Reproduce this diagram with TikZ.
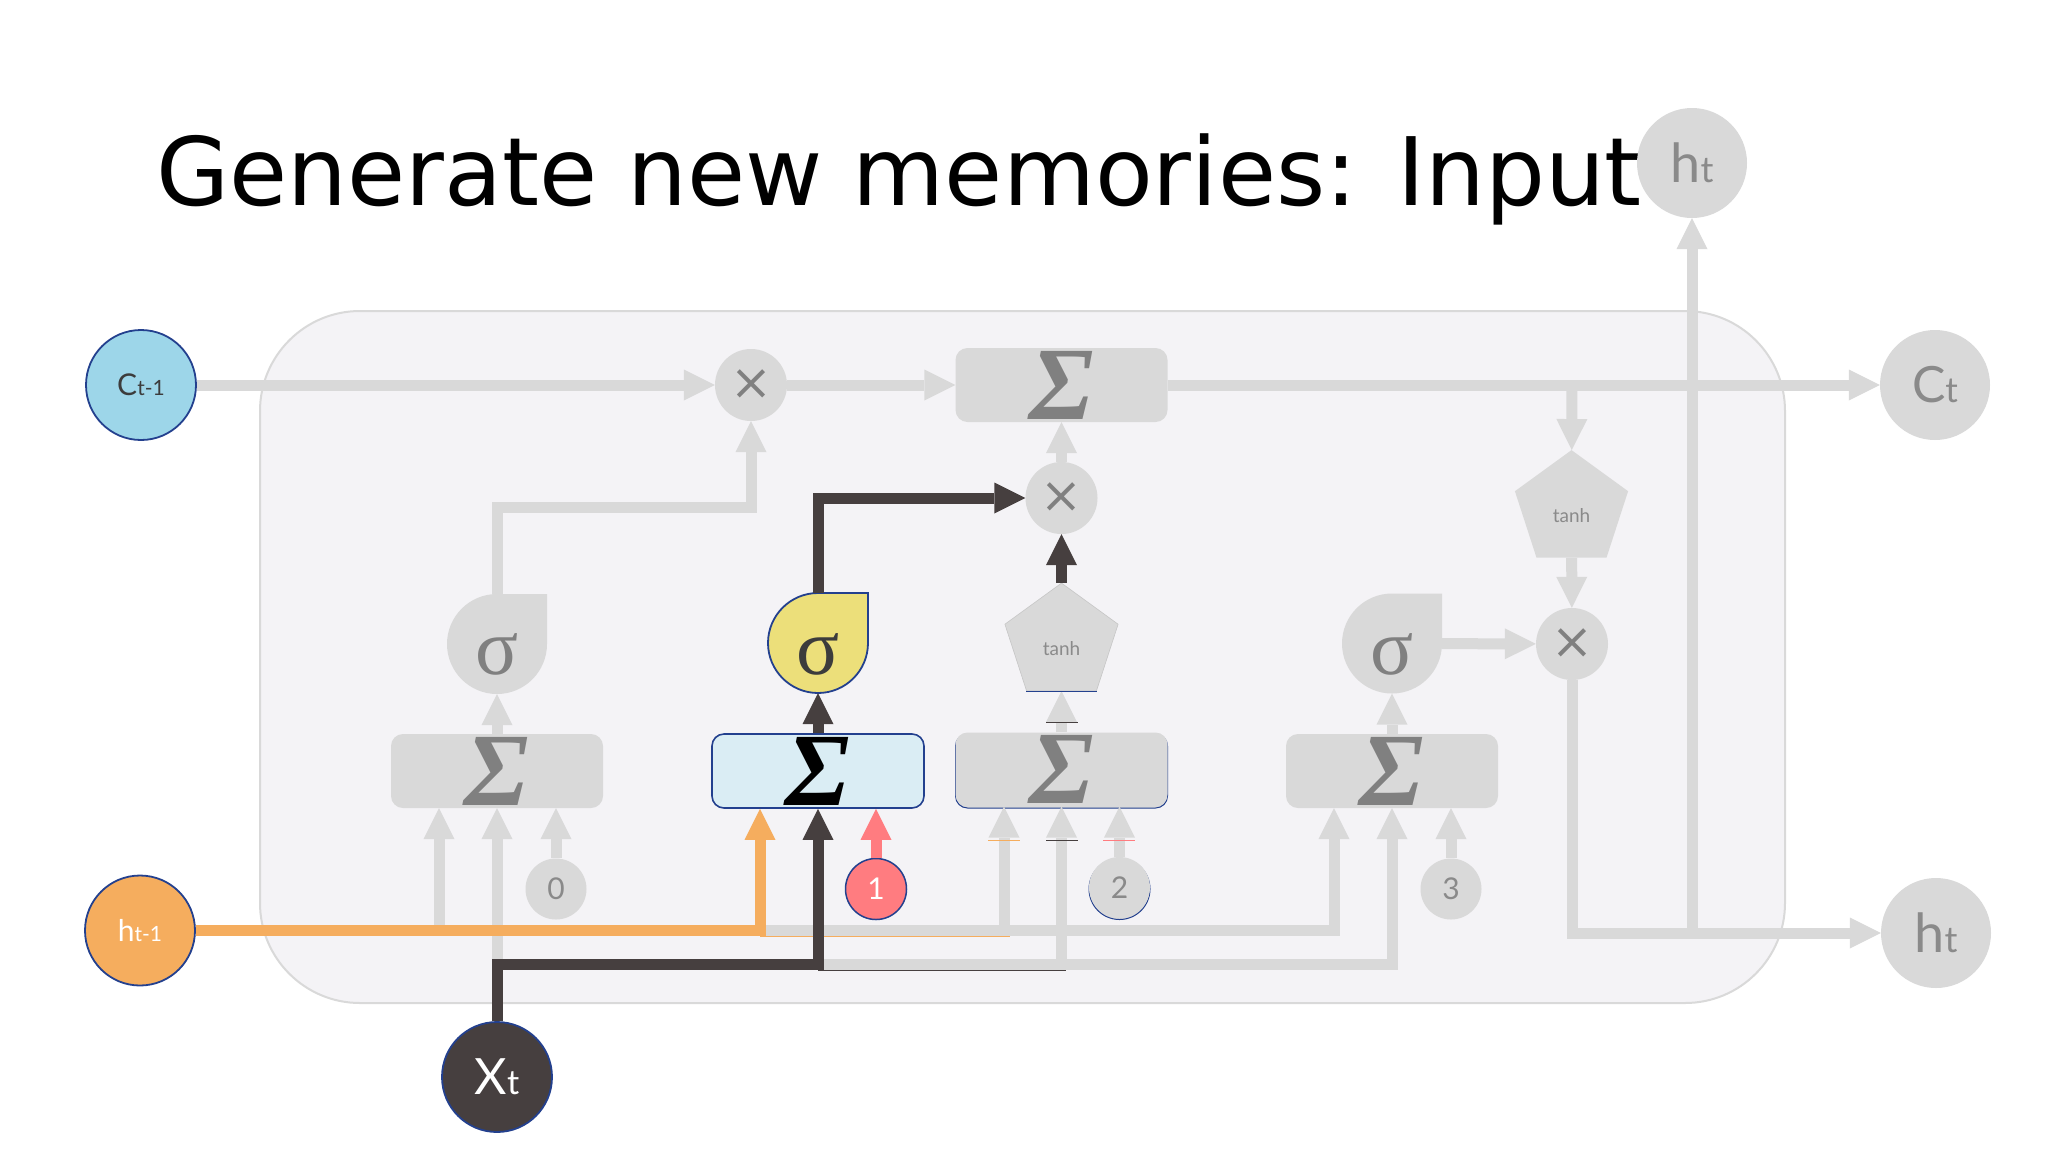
\documentclass[tikz,border=0pt]{standalone}
\usepackage{fontspec}
\setmainfont{Lato}
\newfontfamily\titlefont{DejaVu Sans}
\newfontfamily\grkfont{Liberation Serif}
\newfontfamily\xfont{DejaVu Sans}
\usetikzlibrary{arrows.meta,shapes.geometric}
\newcommand{\fsz}[1]{\fontsize{#1}{#1}\selectfont}
\definecolor{lgray}{HTML}{D9D9D9}
\definecolor{tgray}{HTML}{8A8A8A}
\definecolor{sgray}{HTML}{808080}
\definecolor{dark}{HTML}{463F3F}
\definecolor{navy}{HTML}{23408E}
\definecolor{orng}{HTML}{F5AD5E}
\definecolor{pinkred}{HTML}{FF7C80}
\definecolor{yell}{HTML}{ECDF7A}
\definecolor{lblue}{HTML}{DAEDF4}
\definecolor{cblue}{HTML}{9DD6E9}
\definecolor{panel}{HTML}{F4F3F6}
\definecolor{ctext}{HTML}{3C3C3C}
\tikzset{
  sigpic/.pic={\path[pic actions] (0,-50) -- (50,-50) -- (50,0)
     .. controls (50,27.6) and (27.6,50) .. (0,50)
     .. controls (-27.6,50) and (-50,27.6) .. (-50,0)
     .. controls (-50,-27.6) and (-27.6,-50) .. (0,-50) -- cycle;}
}
\begin{document}
\begin{tikzpicture}[x=1pt,y=-1pt,
  arrtip/.style={-{Triangle[width=31pt,length=31pt,line width=0pt]}},
  gline/.style={line width=11pt, draw=lgray},
  garrow/.style={gline, arrtip},
  darrow/.style={line width=11pt, draw=dark, arrtip},
  oarrow/.style={line width=11pt, draw=orng, arrtip},
  rarrow/.style={line width=11pt, draw=pinkred, arrtip},
  io/.style={circle, inner sep=0pt, minimum size=110pt},
  sumbox/.style={rectangle, rounded corners=12pt, minimum width=212pt, minimum height=74pt, inner sep=0pt, fill=lgray, text=sgray, font=\grkfont\bfseries\itshape\fsz{104pt}},
  mul/.style={circle, fill=lgray, minimum size=72pt, inner sep=0pt, text=sgray, font=\xfont\fsz{50pt}},
  pent/.style={regular polygon, regular polygon sides=5, minimum size=119pt, inner sep=0pt, fill=lgray},
  pentt/.style={inner sep=0pt, text=tgray, font=\fsz{19pt}},
  sigc/.style={circle, minimum size=100pt, inner sep=0pt},
  sigt/.style={inner sep=0pt, font=\grkfont\fsz{80pt}},
  num/.style={circle, fill=lgray, minimum size=61pt, inner sep=0pt, text=tgray, font=\fsz{30pt}},
  tick/.style={inner sep=0pt, minimum width=32pt, minimum height=1.6pt}
]
\useasboundingbox (0,0) rectangle (2048,1152);
\fill[white] (0,0) rectangle (2048,1152);

% cell panel
\node[draw=lgray, fill=panel, line width=2pt, rounded corners=100pt, minimum width=1525pt, minimum height=692pt, inner sep=0pt] (cell) at (1022.5,657) {};

% title
\node[anchor=base west, inner sep=0pt, font=\titlefont\fsz{94.5pt}] (title) at (156,205) {Generate new memories: Input};

% outer inputs / outputs
\node[io, fill=cblue, draw=navy, line width=1.8pt, text=ctext] (cprev) at (141,385) {\fsz{30pt}C\fsz{21pt}t-1};
\node[io, fill=orng, draw=navy, line width=1.8pt, text=white] (hprev) at (140,930.5) {\fsz{30pt}h\fsz{21pt}t-1};
\node[io, fill=dark, draw=navy, line width=1.8pt, text=white] (Xt) at (497,1077) {\fsz{50pt}X\fsz{34pt}t};
\node[io, fill=lgray, text=tgray] (htop) at (1692,163) {\fsz{54pt}h\fsz{36pt}t};
\node[io, fill=lgray, text=tgray] (Ct) at (1935,385) {\fsz{50pt}C\fsz{35pt}t};
\node[io, fill=lgray, text=tgray] (hout) at (1936,933) {\fsz{54pt}h\fsz{36pt}t};

% top row
\node[mul] (mulA) at (751,385) {×};
\node[sumbox] (sumTop) at (1061.5,385) {Σ};
\node[mul] (mulB) at (1061.5,498) {×};
\node[pent, draw=gray!45, line width=0.6pt] (tanhB) at (1061.5,642.6) {};
\node[pentt] (tanhBt) at (1061.5,649) {tanh};
\node[pent] (tanhD) at (1571.5,509.6) {};
\node[pentt] (tanhDt) at (1571.5,516) {tanh};
\node[mul] (mulD) at (1572,644) {×};

% sigma gates
\pic[fill=lgray] at (497,644) {sigpic};
\node[sigc] (sigA) at (497,644) {};
\node[sigt, text=sgray] (sigAt) at (497,654) {σ};
\pic[fill=yell, draw=navy, line width=1.8pt] at (818,643) {sigpic};
\node[sigc] (sigB) at (818,643) {};
\node[sigt, text=ctext] (sigBt) at (818,654) {σ};
\pic[fill=lgray] at (1392,643.5) {sigpic};
\node[sigc] (sigD) at (1392,643.5) {};
\node[sigt, text=sgray] (sigDt) at (1392,654) {σ};

% sum boxes
\node[sumbox] (sumA) at (497,771) {Σ};
\node[sumbox, fill=lblue, draw=navy, line width=1.6pt, text=black] (sumB) at (818,771) {Σ};
\node[sumbox, draw=navy, line width=1pt] (sumCb) at (1061.5,771) {};
\node[sumbox] (sumC) at (1061.5,769.5) {Σ};
\node[sumbox] (sumD) at (1392,771) {Σ};

% bias numbers
\node[num] (num0) at (556,889) {0};
\node[num, fill=pinkred, draw=navy, line width=1.5pt, text=white] (num1) at (876,889) {1};
\node[num, draw=navy, line width=1pt] (num2b) at (1119.5,889) {};
\node[num] (num2) at (1119.5,887.5) {2};
\node[num] (num3) at (1451,889) {3};

% coordinates of line corners
\coordinate (cdrop) at (1572,385);
\coordinate (fgate) at (624,507);
\coordinate (hcorner) at (1572,933);
\coordinate (hup) at (1692,933);
\coordinate (hA) at (439,930.5);
\coordinate (hB) at (760,930.5);
\coordinate (hC) at (1004,930.5);
\coordinate (hD) at (1334,930.5);
\coordinate (xA) at (497,964);
\coordinate (xB) at (818,964);
\coordinate (xC) at (1061.5,964);
\coordinate (xD) at (1392,964);

% faint artifacts of the highlight
\node[tick, minimum width=250pt, fill=orng, anchor=west] (oedge) at (760,936.5) {};
\node[tick, minimum width=248pt, fill=dark, anchor=west] (dedge) at (818,970) {};

% gray connectors
\draw[garrow] (cprev) -- (mulA);
\draw[garrow] (mulA) -- (sumTop);
\draw[garrow] (sumTop) -- (Ct);
\draw[garrow] (cdrop) -- (tanhD);
\draw[garrow] (mulB.north) -- (mulB.north |- sumTop.south);
\draw[garrow] (sigA.north) |- (fgate) -| (mulA.south);
\draw[garrow] (sumA) -- (sigA);
\draw[garrow] (sumC) -- (tanhB);
\draw[garrow] (sumD) -- (sigD);
\draw[garrow] (sigD) -- (mulD);
\draw[garrow] (tanhD) -- (mulD);
\draw[garrow] (mulD) -- (hcorner) -- (hout);
\draw[garrow] (hup) -- (htop);
\draw[garrow] (num0) -- (num0 |- sumA.south);
\draw[garrow] (num2) -- (num2 |- sumC.south);
\draw[garrow] (num3) -- (num3 |- sumD.south);
\draw[garrow] (hA) -- (hA |- sumA.south);
\draw[garrow] (hB) -- (hD) -- (hD |- sumD.south);
\draw[garrow] (hC) -- (hC |- sumC.south);
\draw[garrow] (xA) -- (xA |- sumA.south);
\draw[garrow] (xB) -- (xD) -- (xD |- sumD.south);
\draw[garrow] (xC) -- (xC |- sumC.south);

% highlighted connectors
\draw[oarrow] (hprev) -- (hB) -- (hB |- sumB.south);
\draw[darrow] (Xt) -- (xA) -- (xB) -- (xB |- sumB.south);
\draw[rarrow] (num1) -- (num1 |- sumB.south);
\draw[darrow] (sumB) -- (sigB);
\draw[darrow] (tanhB) -- (mulB);
\draw[darrow] (sigB.north) |- (mulB.west);

% small colored ticks under faded arrow heads
\node[tick, fill=orng] (t1) at (1004,840.5) {};
\node[tick, fill=dark] (t2) at (1061.5,840.5) {};
\node[tick, fill=pinkred] (t3) at (1119,840.5) {};
\node[tick, fill=dark] (t4) at (1061.5,722.5) {};
\draw[navy, line width=1pt] (tanhB.corner 3) -- (tanhB.corner 4);
\end{tikzpicture}
\end{document}
